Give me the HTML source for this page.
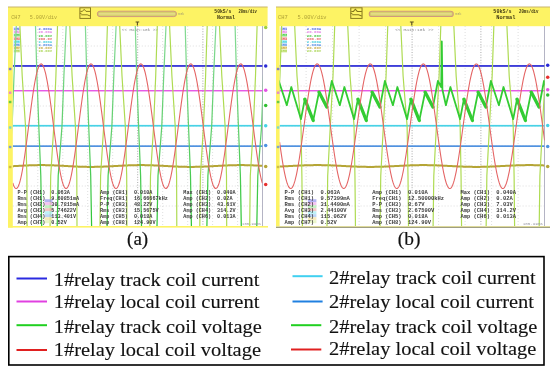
<!DOCTYPE html>
<html><head><meta charset="utf-8"><style>
html,body{margin:0;padding:0;background:#fff;}
body{width:550px;height:372px;overflow:hidden;position:relative;}
svg{position:absolute;left:0;top:0;}
</style></head><body>
<svg width="550" height="372" viewBox="0 0 550 372">
<defs><linearGradient id="gg" gradientUnits="userSpaceOnUse" x1="0" y1="26" x2="0" y2="226"><stop offset="0" stop-color="#86da96"/><stop offset="0.55" stop-color="#5fcf6a"/><stop offset="1" stop-color="#2fc636"/></linearGradient></defs>
<rect x="8" y="7" width="259.6" height="19.2" fill="#fdf364"/>
<rect x="8" y="6.5" width="259.6" height="1" fill="#c9b56c"/>
<rect x="8" y="26" width="4.800000000000001" height="201.6" fill="#fdf364"/>
<rect x="8" y="226" width="260" height="1.6" fill="#fdf364"/>
<path d="M37.8,26 V226 M62.8,26 V226 M87.7,26 V226 M112.7,26 V226 M162.7,26 V226 M187.7,26 V226 M212.6,26 V226 M237.6,26 V226 M12.8,46 H262.6 M12.8,66 H262.6 M12.8,86 H262.6 M12.8,106 H262.6 M12.8,126 H262.6 M12.8,146 H262.6 M12.8,166 H262.6 M12.8,186 H262.6 M12.8,206 H262.6" stroke="#d6d6d6" stroke-width="0.8" stroke-dasharray="1 2" fill="none"/>
<path d="M137.7,26 V226 M202.9,26 V226" stroke="#a0a0a0" stroke-width="0.9" stroke-dasharray="1 1.6" fill="none"/>
<rect x="262.0" y="26" width="1" height="200" fill="#b4b4c4"/>
<g transform="translate(8,0) scale(1.0,1)">
<text x="3.3" y="18.9" font-family='"Liberation Mono",monospace' font-size="5.8" fill="#aea036" textLength="9.2" lengthAdjust="spacingAndGlyphs">CH7</text>
<text x="21.8" y="18.9" font-family='"Liberation Mono",monospace' font-size="5.8" fill="#aea036" textLength="27.3" lengthAdjust="spacingAndGlyphs">5.00V/div</text>
<g fill="none" stroke="#85761c" stroke-width="0.95"><rect x="71.9" y="7.8" width="10.6" height="10.6"/><path d="M72.4,11.4 H74.4 L76.2,9.3 L78,11.4 H82.4"/><path d="M71.9,13.4 H73.4"/><path d="M73.2,14.8 H79.2 L82.2,16"/></g>
<rect x="89.3" y="11.2" width="79.2" height="5.4" rx="2.7" fill="#d6cf6e" stroke="#cf9a7c" stroke-width="1"/>
<rect x="91" y="13.2" width="76" height="1.4" fill="#e6e08a"/>
<text x="169.8" y="15.2" font-family='"Liberation Mono",monospace' font-size="3.6" fill="#a8a070">33k</text>
<text x="206.3" y="12.6" font-family='"Liberation Mono",monospace' font-size="5.4" font-weight="bold" fill="#3e3712" textLength="17" lengthAdjust="spacingAndGlyphs">50kS/s</text>
<text x="230.4" y="12.6" font-family='"Liberation Mono",monospace' font-size="5.4" font-weight="bold" fill="#3e3712" textLength="18.4" lengthAdjust="spacingAndGlyphs">20ms/div</text>
<text x="209.1" y="18.8" font-family='"Liberation Mono",monospace' font-size="5.4" font-weight="bold" fill="#3e3712" textLength="17.9" lengthAdjust="spacingAndGlyphs">Normal</text>
<path d="M127.6,22 H131.2 M129.4,22 V25.6" stroke="#5a5020" stroke-width="1.1" fill="none"/>
<rect x="5.6" y="27.40" width="6.2" height="3.1" fill="#c8c8ff"/>
<text transform="translate(5.9,30.10) scale(0.33)" font-family='"Liberation Mono",monospace' font-size="10" fill="#4060e0">CH1</text>
<text transform="translate(30.4,30.20) scale(0.38)" font-family='"Liberation Mono",monospace' font-size="10" font-weight="bold" fill="#4060e0" opacity="0.85">2.000A</text>
<rect x="5.6" y="30.55" width="6.2" height="3.1" fill="#f8c8f8"/>
<text transform="translate(5.9,33.25) scale(0.33)" font-family='"Liberation Mono",monospace' font-size="10" fill="#e070e0">CH2</text>
<text transform="translate(30.4,33.35) scale(0.38)" font-family='"Liberation Mono",monospace' font-size="10" font-weight="bold" fill="#e070e0" opacity="0.85">20.00A</text>
<rect x="5.6" y="33.70" width="6.2" height="3.1" fill="#b0f0b0"/>
<text transform="translate(5.9,36.40) scale(0.33)" font-family='"Liberation Mono",monospace' font-size="10" fill="#30c030">CH3</text>
<text transform="translate(30.4,36.50) scale(0.38)" font-family='"Liberation Mono",monospace' font-size="10" font-weight="bold" fill="#30c030" opacity="0.85">20.00V</text>
<rect x="5.6" y="36.85" width="6.2" height="3.1" fill="#f8c0c0"/>
<text transform="translate(5.9,39.55) scale(0.33)" font-family='"Liberation Mono",monospace' font-size="10" fill="#e05050">CH4</text>
<text transform="translate(30.4,39.65) scale(0.38)" font-family='"Liberation Mono",monospace' font-size="10" font-weight="bold" fill="#e05050" opacity="0.85">200.0V</text>
<rect x="5.6" y="40.00" width="6.2" height="3.1" fill="#b0f0f8"/>
<text transform="translate(5.9,42.70) scale(0.33)" font-family='"Liberation Mono",monospace' font-size="10" fill="#30c8d8">CH5</text>
<text transform="translate(30.4,42.80) scale(0.38)" font-family='"Liberation Mono",monospace' font-size="10" font-weight="bold" fill="#30c8d8" opacity="0.85">2.000A</text>
<rect x="5.6" y="43.15" width="6.2" height="3.1" fill="#c0d8f8"/>
<text transform="translate(5.9,45.85) scale(0.33)" font-family='"Liberation Mono",monospace' font-size="10" fill="#4080e0">CH6</text>
<text transform="translate(30.4,45.95) scale(0.38)" font-family='"Liberation Mono",monospace' font-size="10" font-weight="bold" fill="#4080e0" opacity="0.85">2.000A</text>
<rect x="5.6" y="46.30" width="6.2" height="3.1" fill="#f0e0a0"/>
<text transform="translate(5.9,49.00) scale(0.33)" font-family='"Liberation Mono",monospace' font-size="10" fill="#c0a030">CH7</text>
<text transform="translate(30.4,49.10) scale(0.38)" font-family='"Liberation Mono",monospace' font-size="10" font-weight="bold" fill="#c0a030" opacity="0.85">20.00V</text>
<rect x="5.6" y="49.45" width="6.2" height="3.1" fill="#e0f0b0"/>
<text transform="translate(5.9,52.15) scale(0.33)" font-family='"Liberation Mono",monospace' font-size="10" fill="#a0d040">CH8</text>
<text transform="translate(30.4,52.25) scale(0.38)" font-family='"Liberation Mono",monospace' font-size="10" font-weight="bold" fill="#a0d040" opacity="0.85">20.00V</text>
<text x="113.8" y="31.3" font-family='"Liberation Mono",monospace' font-size="4.3" fill="#8a8a8a">&lt;&lt; Main:10k &gt;&gt;</text>
</g>
<clipPath id="ca"><rect x="12.8" y="26" width="249.8" height="200"/></clipPath>
<g clip-path="url(#ca)">
<rect x="12.8" y="65.05" width="249.8" height="1.8" fill="#3535d8"/>
<rect x="12.8" y="90.0" width="249.8" height="1.45" fill="#e65ae6"/>
<rect x="12.8" y="124.9" width="249.8" height="1.7" fill="#48d2e6"/>
<rect x="12.8" y="145.3" width="249.8" height="1.7" fill="#5092e0"/>
<path d="M12.80,166.19 L13.30,166.16 L13.80,166.13 L14.30,166.10 L14.80,166.08 L15.30,166.05 L15.80,166.02 L16.30,165.99 L16.80,165.96 L17.30,165.93 L17.80,165.91 L18.30,165.88 L18.80,165.85 L19.30,165.82 L19.80,165.79 L20.30,165.77 L20.80,165.74 L21.30,165.71 L21.80,165.69 L22.30,165.66 L22.80,165.63 L23.30,165.61 L23.80,165.58 L24.30,165.56 L24.80,165.53 L25.30,165.51 L25.80,165.49 L26.30,165.46 L26.80,165.44 L27.30,165.42 L27.80,165.40 L28.30,165.38 L28.80,165.36 L29.30,165.34 L29.80,165.32 L30.30,165.30 L30.80,165.28 L31.30,165.27 L31.80,165.25 L32.30,165.23 L32.80,165.22 L33.30,165.21 L33.80,165.19 L34.30,165.18 L34.80,165.17 L35.30,165.16 L35.80,165.15 L36.30,165.14 L36.80,165.13 L37.30,165.13 L37.80,165.12 L38.30,165.11 L38.80,165.11 L39.30,165.11 L39.80,165.10 L40.30,165.10 L40.80,165.10 L41.30,165.10 L41.80,165.10 L42.30,165.10 L42.80,165.11 L43.30,165.11 L43.80,165.11 L44.30,165.12 L44.80,165.12 L45.30,165.13 L45.80,165.14 L46.30,165.15 L46.80,165.16 L47.30,165.17 L47.80,165.18 L48.30,165.19 L48.80,165.20 L49.30,165.22 L49.80,165.23 L50.30,165.25 L50.80,165.26 L51.30,165.28 L51.80,165.30 L52.30,165.31 L52.80,165.33 L53.30,165.35 L53.80,165.37 L54.30,165.39 L54.80,165.41 L55.30,165.44 L55.80,165.46 L56.30,165.48 L56.80,165.51 L57.30,165.53 L57.80,165.55 L58.30,165.58 L58.80,165.60 L59.30,165.63 L59.80,165.65 L60.30,165.68 L60.80,165.71 L61.30,165.73 L61.80,165.76 L62.30,165.79 L62.80,165.82 L63.30,165.84 L63.80,165.87 L64.30,165.90 L64.80,165.93 L65.30,165.96 L65.80,165.99 L66.30,166.01 L66.80,166.04 L67.30,166.07 L67.80,166.10 L68.30,166.13 L68.80,166.16 L69.30,166.18 L69.80,166.21 L70.30,166.24 L70.80,166.27 L71.30,166.29 L71.80,166.32 L72.30,166.35 L72.80,166.37 L73.30,166.40 L73.80,166.42 L74.30,166.45 L74.80,166.47 L75.30,166.49 L75.80,166.52 L76.30,166.54 L76.80,166.56 L77.30,166.59 L77.80,166.61 L78.30,166.63 L78.80,166.65 L79.30,166.67 L79.80,166.69 L80.30,166.70 L80.80,166.72 L81.30,166.74 L81.80,166.75 L82.30,166.77 L82.80,166.78 L83.30,166.80 L83.80,166.81 L84.30,166.82 L84.80,166.83 L85.30,166.84 L85.80,166.85 L86.30,166.86 L86.80,166.87 L87.30,166.88 L87.80,166.88 L88.30,166.89 L88.80,166.89 L89.30,166.89 L89.80,166.90 L90.30,166.90 L90.80,166.90 L91.30,166.90 L91.80,166.90 L92.30,166.90 L92.80,166.89 L93.30,166.89 L93.80,166.89 L94.30,166.88 L94.80,166.87 L95.30,166.87 L95.80,166.86 L96.30,166.85 L96.80,166.84 L97.30,166.83 L97.80,166.82 L98.30,166.81 L98.80,166.79 L99.30,166.78 L99.80,166.77 L100.30,166.75 L100.80,166.73 L101.30,166.72 L101.80,166.70 L102.30,166.68 L102.80,166.66 L103.30,166.64 L103.80,166.62 L104.30,166.60 L104.80,166.58 L105.30,166.56 L105.80,166.54 L106.30,166.51 L106.80,166.49 L107.30,166.47 L107.80,166.44 L108.30,166.42 L108.80,166.39 L109.30,166.37 L109.80,166.34 L110.30,166.31 L110.80,166.29 L111.30,166.26 L111.80,166.23 L112.30,166.21 L112.80,166.18 L113.30,166.15 L113.80,166.12 L114.30,166.09 L114.80,166.07 L115.30,166.04 L115.80,166.01 L116.30,165.98 L116.80,165.95 L117.30,165.92 L117.80,165.90 L118.30,165.87 L118.80,165.84 L119.30,165.81 L119.80,165.78 L120.30,165.76 L120.80,165.73 L121.30,165.70 L121.80,165.68 L122.30,165.65 L122.80,165.62 L123.30,165.60 L123.80,165.57 L124.30,165.55 L124.80,165.52 L125.30,165.50 L125.80,165.48 L126.30,165.45 L126.80,165.43 L127.30,165.41 L127.80,165.39 L128.30,165.37 L128.80,165.35 L129.30,165.33 L129.80,165.31 L130.30,165.29 L130.80,165.28 L131.30,165.26 L131.80,165.24 L132.30,165.23 L132.80,165.21 L133.30,165.20 L133.80,165.19 L134.30,165.18 L134.80,165.17 L135.30,165.16 L135.80,165.15 L136.30,165.14 L136.80,165.13 L137.30,165.12 L137.80,165.12 L138.30,165.11 L138.80,165.11 L139.30,165.10 L139.80,165.10 L140.30,165.10 L140.80,165.10 L141.30,165.10 L141.80,165.10 L142.30,165.10 L142.80,165.11 L143.30,165.11 L143.80,165.11 L144.30,165.12 L144.80,165.13 L145.30,165.13 L145.80,165.14 L146.30,165.15 L146.80,165.16 L147.30,165.17 L147.80,165.18 L148.30,165.20 L148.80,165.21 L149.30,165.22 L149.80,165.24 L150.30,165.25 L150.80,165.27 L151.30,165.29 L151.80,165.30 L152.30,165.32 L152.80,165.34 L153.30,165.36 L153.80,165.38 L154.30,165.40 L154.80,165.42 L155.30,165.45 L155.80,165.47 L156.30,165.49 L156.80,165.51 L157.30,165.54 L157.80,165.56 L158.30,165.59 L158.80,165.61 L159.30,165.64 L159.80,165.67 L160.30,165.69 L160.80,165.72 L161.30,165.75 L161.80,165.77 L162.30,165.80 L162.80,165.83 L163.30,165.86 L163.80,165.88 L164.30,165.91 L164.80,165.94 L165.30,165.97 L165.80,166.00 L166.30,166.03 L166.80,166.05 L167.30,166.08 L167.80,166.11 L168.30,166.14 L168.80,166.17 L169.30,166.19 L169.80,166.22 L170.30,166.25 L170.80,166.28 L171.30,166.30 L171.80,166.33 L172.30,166.36 L172.80,166.38 L173.30,166.41 L173.80,166.43 L174.30,166.46 L174.80,166.48 L175.30,166.50 L175.80,166.53 L176.30,166.55 L176.80,166.57 L177.30,166.59 L177.80,166.62 L178.30,166.64 L178.80,166.66 L179.30,166.67 L179.80,166.69 L180.30,166.71 L180.80,166.73 L181.30,166.74 L181.80,166.76 L182.30,166.77 L182.80,166.79 L183.30,166.80 L183.80,166.81 L184.30,166.83 L184.80,166.84 L185.30,166.85 L185.80,166.86 L186.30,166.86 L186.80,166.87 L187.30,166.88 L187.80,166.88 L188.30,166.89 L188.80,166.89 L189.30,166.90 L189.80,166.90 L190.30,166.90 L190.80,166.90 L191.30,166.90 L191.80,166.90 L192.30,166.90 L192.80,166.89 L193.30,166.89 L193.80,166.88 L194.30,166.88 L194.80,166.87 L195.30,166.86 L195.80,166.86 L196.30,166.85 L196.80,166.84 L197.30,166.83 L197.80,166.81 L198.30,166.80 L198.80,166.79 L199.30,166.77 L199.80,166.76 L200.30,166.74 L200.80,166.73 L201.30,166.71 L201.80,166.69 L202.30,166.67 L202.80,166.66 L203.30,166.64 L203.80,166.62 L204.30,166.59 L204.80,166.57 L205.30,166.55 L205.80,166.53 L206.30,166.50 L206.80,166.48 L207.30,166.46 L207.80,166.43 L208.30,166.41 L208.80,166.38 L209.30,166.36 L209.80,166.33 L210.30,166.30 L210.80,166.28 L211.30,166.25 L211.80,166.22 L212.30,166.19 L212.80,166.17 L213.30,166.14 L213.80,166.11 L214.30,166.08 L214.80,166.05 L215.30,166.03 L215.80,166.00 L216.30,165.97 L216.80,165.94 L217.30,165.91 L217.80,165.88 L218.30,165.86 L218.80,165.83 L219.30,165.80 L219.80,165.77 L220.30,165.75 L220.80,165.72 L221.30,165.69 L221.80,165.67 L222.30,165.64 L222.80,165.61 L223.30,165.59 L223.80,165.56 L224.30,165.54 L224.80,165.51 L225.30,165.49 L225.80,165.47 L226.30,165.45 L226.80,165.42 L227.30,165.40 L227.80,165.38 L228.30,165.36 L228.80,165.34 L229.30,165.32 L229.80,165.30 L230.30,165.29 L230.80,165.27 L231.30,165.25 L231.80,165.24 L232.30,165.22 L232.80,165.21 L233.30,165.20 L233.80,165.18 L234.30,165.17 L234.80,165.16 L235.30,165.15 L235.80,165.14 L236.30,165.13 L236.80,165.13 L237.30,165.12 L237.80,165.11 L238.30,165.11 L238.80,165.11 L239.30,165.10 L239.80,165.10 L240.30,165.10 L240.80,165.10 L241.30,165.10 L241.80,165.10 L242.30,165.10 L242.80,165.11 L243.30,165.11 L243.80,165.12 L244.30,165.12 L244.80,165.13 L245.30,165.14 L245.80,165.15 L246.30,165.16 L246.80,165.17 L247.30,165.18 L247.80,165.19 L248.30,165.20 L248.80,165.21 L249.30,165.23 L249.80,165.24 L250.30,165.26 L250.80,165.28 L251.30,165.29 L251.80,165.31 L252.30,165.33 L252.80,165.35 L253.30,165.37 L253.80,165.39 L254.30,165.41 L254.80,165.43 L255.30,165.45 L255.80,165.48 L256.30,165.50 L256.80,165.52 L257.30,165.55 L257.80,165.57 L258.30,165.60 L258.80,165.62 L259.30,165.65 L259.80,165.68 L260.30,165.70 L260.80,165.73 L261.30,165.76 L261.80,165.78 L262.30,165.81" stroke="#b5a536" stroke-width="2" fill="none"/>
<path d="M19.90,26 L22.20,76 L25.50,126 L26.90,176 L27.10,226" stroke="#aedb52" stroke-width="1.2" fill="none"/>
<path d="M69.80,26 L72.10,76 L75.40,126 L76.80,176 L77.00,226" stroke="#aedb52" stroke-width="1.2" fill="none"/>
<path d="M119.70,26 L122.00,76 L125.30,126 L126.70,176 L126.90,226" stroke="#aedb52" stroke-width="1.2" fill="none"/>
<path d="M169.60,26 L171.90,76 L175.20,126 L176.60,176 L176.80,226" stroke="#aedb52" stroke-width="1.2" fill="none"/>
<path d="M219.50,26 L221.80,76 L225.10,126 L226.50,176 L226.70,226" stroke="#aedb52" stroke-width="1.2" fill="none"/>
<path d="M57.50,26 L55.90,76 L53.80,126 L50.70,176 L50.10,226" stroke="#aedb52" stroke-width="1.2" fill="none"/>
<path d="M107.40,26 L105.80,76 L103.70,126 L100.60,176 L100.00,226" stroke="#aedb52" stroke-width="1.2" fill="none"/>
<path d="M157.30,26 L155.70,76 L153.60,126 L150.50,176 L149.90,226" stroke="#aedb52" stroke-width="1.2" fill="none"/>
<path d="M207.20,26 L205.60,76 L203.50,126 L200.40,176 L199.80,226" stroke="#aedb52" stroke-width="1.2" fill="none"/>
<path d="M257.10,26 L255.50,76 L253.40,126 L250.30,176 L249.70,226" stroke="#aedb52" stroke-width="1.2" fill="none"/>
<path d="M35.50,26 L36.90,76 L38.80,126 L40.80,176 L41.70,226" stroke="url(#gg)" stroke-width="1.25" fill="none"/>
<path d="M85.40,26 L86.80,76 L88.70,126 L90.70,176 L91.60,226" stroke="url(#gg)" stroke-width="1.25" fill="none"/>
<path d="M135.30,26 L136.70,76 L138.60,126 L140.60,176 L141.50,226" stroke="url(#gg)" stroke-width="1.25" fill="none"/>
<path d="M185.20,26 L186.60,76 L188.50,126 L190.50,176 L191.40,226" stroke="url(#gg)" stroke-width="1.25" fill="none"/>
<path d="M235.10,26 L236.50,76 L238.40,126 L240.40,176 L241.30,226" stroke="url(#gg)" stroke-width="1.25" fill="none"/>
<path d="M16.30,26 L14.00,76 L12.10,126 L8.30,176 L7.30,226" stroke="url(#gg)" stroke-width="1.25" fill="none"/>
<path d="M66.20,26 L63.90,76 L62.00,126 L58.20,176 L57.20,226" stroke="url(#gg)" stroke-width="1.25" fill="none"/>
<path d="M116.10,26 L113.80,76 L111.90,126 L108.10,176 L107.10,226" stroke="url(#gg)" stroke-width="1.25" fill="none"/>
<path d="M166.00,26 L163.70,76 L161.80,126 L158.00,176 L157.00,226" stroke="url(#gg)" stroke-width="1.25" fill="none"/>
<path d="M215.90,26 L213.60,76 L211.70,126 L207.90,176 L206.90,226" stroke="url(#gg)" stroke-width="1.25" fill="none"/>
<path d="M265.80,26 L263.50,76 L261.60,126 L257.80,176 L256.80,226" stroke="url(#gg)" stroke-width="1.25" fill="none"/>
<path d="M12.80,183.04 L13.30,184.53 L13.80,185.79 L14.30,186.82 L14.80,187.60 L15.30,188.14 L15.80,188.44 L16.30,188.49 L16.80,188.29 L17.30,187.85 L17.80,187.16 L18.30,186.23 L18.80,185.06 L19.30,183.66 L19.80,182.04 L20.30,180.19 L20.80,178.12 L21.30,175.85 L21.80,173.39 L22.30,170.74 L22.80,167.91 L23.30,164.91 L23.80,161.76 L24.30,158.48 L24.80,155.06 L25.30,151.53 L25.80,147.90 L26.30,144.18 L26.80,140.39 L27.30,136.55 L27.80,132.66 L28.30,128.75 L28.80,124.83 L29.30,120.91 L29.80,117.02 L30.30,113.16 L30.80,109.35 L31.30,105.61 L31.80,101.95 L32.30,98.39 L32.80,94.94 L33.30,91.61 L33.80,88.42 L34.30,85.38 L34.80,82.50 L35.30,79.79 L35.80,77.27 L36.30,74.94 L36.80,72.81 L37.30,70.90 L37.80,69.20 L38.30,67.73 L38.80,66.49 L39.30,65.49 L39.80,64.73 L40.30,64.22 L40.80,63.94 L41.30,63.92 L41.80,64.14 L42.30,64.61 L42.80,65.32 L43.30,66.28 L43.80,67.47 L44.30,68.89 L44.80,70.54 L45.30,72.41 L45.80,74.49 L46.30,76.78 L46.80,79.27 L47.30,81.94 L47.80,84.79 L48.30,87.80 L48.80,90.96 L49.30,94.26 L49.80,97.69 L50.30,101.23 L50.80,104.87 L51.30,108.60 L51.80,112.39 L52.30,116.24 L52.80,120.13 L53.30,124.04 L53.80,127.96 L54.30,131.88 L54.80,135.77 L55.30,139.63 L55.80,143.43 L56.30,147.16 L56.80,150.81 L57.30,154.36 L57.80,157.80 L58.30,161.12 L58.80,164.29 L59.30,167.32 L59.80,170.18 L60.30,172.87 L60.80,175.38 L61.30,177.69 L61.80,179.79 L62.30,181.68 L62.80,183.36 L63.30,184.80 L63.80,186.02 L64.30,186.99 L64.80,187.73 L65.30,188.22 L65.80,188.47 L66.30,188.47 L66.80,188.22 L67.30,187.73 L67.80,186.99 L68.30,186.02 L68.80,184.80 L69.30,183.36 L69.80,181.68 L70.30,179.79 L70.80,177.69 L71.30,175.38 L71.80,172.87 L72.30,170.18 L72.80,167.32 L73.30,164.29 L73.80,161.12 L74.30,157.80 L74.80,154.36 L75.30,150.81 L75.80,147.16 L76.30,143.43 L76.80,139.63 L77.30,135.77 L77.80,131.88 L78.30,127.96 L78.80,124.04 L79.30,120.13 L79.80,116.24 L80.30,112.39 L80.80,108.60 L81.30,104.87 L81.80,101.23 L82.30,97.69 L82.80,94.26 L83.30,90.96 L83.80,87.80 L84.30,84.79 L84.80,81.94 L85.30,79.27 L85.80,76.78 L86.30,74.49 L86.80,72.41 L87.30,70.54 L87.80,68.89 L88.30,67.47 L88.80,66.28 L89.30,65.32 L89.80,64.61 L90.30,64.14 L90.80,63.92 L91.30,63.94 L91.80,64.22 L92.30,64.73 L92.80,65.49 L93.30,66.49 L93.80,67.73 L94.30,69.20 L94.80,70.90 L95.30,72.81 L95.80,74.94 L96.30,77.27 L96.80,79.79 L97.30,82.50 L97.80,85.38 L98.30,88.42 L98.80,91.61 L99.30,94.94 L99.80,98.39 L100.30,101.95 L100.80,105.61 L101.30,109.35 L101.80,113.16 L102.30,117.02 L102.80,120.91 L103.30,124.83 L103.80,128.75 L104.30,132.66 L104.80,136.55 L105.30,140.39 L105.80,144.18 L106.30,147.90 L106.80,151.53 L107.30,155.06 L107.80,158.48 L108.30,161.76 L108.80,164.91 L109.30,167.91 L109.80,170.74 L110.30,173.39 L110.80,175.85 L111.30,178.12 L111.80,180.19 L112.30,182.04 L112.80,183.66 L113.30,185.06 L113.80,186.23 L114.30,187.16 L114.80,187.85 L115.30,188.29 L115.80,188.49 L116.30,188.44 L116.80,188.14 L117.30,187.60 L117.80,186.82 L118.30,185.79 L118.80,184.53 L119.30,183.04 L119.80,181.32 L120.30,179.39 L120.80,177.24 L121.30,174.89 L121.80,172.35 L122.30,169.62 L122.80,166.73 L123.30,163.67 L123.80,160.46 L124.30,157.12 L124.80,153.66 L125.30,150.09 L125.80,146.42 L126.30,142.67 L126.80,138.86 L127.30,135.00 L127.80,131.10 L128.30,127.18 L128.80,123.26 L129.30,119.35 L129.80,115.47 L130.30,111.63 L130.80,107.85 L131.30,104.14 L131.80,100.51 L132.30,96.99 L132.80,93.59 L133.30,90.31 L133.80,87.18 L134.30,84.20 L134.80,81.39 L135.30,78.76 L135.80,76.31 L136.30,74.06 L136.80,72.02 L137.30,70.19 L137.80,68.59 L138.30,67.21 L138.80,66.07 L139.30,65.16 L139.80,64.50 L140.30,64.08 L140.80,63.90 L141.30,63.98 L141.80,64.30 L142.30,64.87 L142.80,65.67 L143.30,66.72 L143.80,68.01 L144.30,69.52 L144.80,71.26 L145.30,73.22 L145.80,75.39 L146.30,77.76 L146.80,80.32 L147.30,83.06 L147.80,85.97 L148.30,89.04 L148.80,92.26 L149.30,95.62 L149.80,99.09 L150.30,102.68 L150.80,106.35 L151.30,110.11 L151.80,113.93 L152.30,117.79 L152.80,121.69 L153.30,125.61 L153.80,129.53 L154.30,133.44 L154.80,137.32 L155.30,141.15 L155.80,144.93 L156.30,148.63 L156.80,152.24 L157.30,155.75 L157.80,159.14 L158.30,162.41 L158.80,165.52 L159.30,168.49 L159.80,171.28 L160.30,173.90 L160.80,176.32 L161.30,178.55 L161.80,180.57 L162.30,182.38 L162.80,183.96 L163.30,185.32 L163.80,186.44 L164.30,187.32 L164.80,187.96 L165.30,188.35 L165.80,188.50 L166.30,188.40 L166.80,188.05 L167.30,187.46 L167.80,186.63 L168.30,185.56 L168.80,184.25 L169.30,182.71 L169.80,180.95 L170.30,178.97 L170.80,176.79 L171.30,174.40 L171.80,171.82 L172.30,169.06 L172.80,166.13 L173.30,163.04 L173.80,159.81 L174.30,156.44 L174.80,152.95 L175.30,149.36 L175.80,145.68 L176.30,141.91 L176.80,138.09 L177.30,134.22 L177.80,130.32 L178.30,126.40 L178.80,122.48 L179.30,118.57 L179.80,114.70 L180.30,110.87 L180.80,107.10 L181.30,103.40 L181.80,99.80 L182.30,96.30 L182.80,92.92 L183.30,89.68 L183.80,86.57 L184.30,83.63 L184.80,80.85 L185.30,78.25 L185.80,75.84 L186.30,73.64 L186.80,71.64 L187.30,69.85 L187.80,68.29 L188.30,66.96 L188.80,65.87 L189.30,65.01 L189.80,64.39 L190.30,64.02 L190.80,63.90 L191.30,64.02 L191.80,64.39 L192.30,65.01 L192.80,65.87 L193.30,66.96 L193.80,68.29 L194.30,69.85 L194.80,71.64 L195.30,73.64 L195.80,75.84 L196.30,78.25 L196.80,80.85 L197.30,83.63 L197.80,86.57 L198.30,89.68 L198.80,92.92 L199.30,96.30 L199.80,99.80 L200.30,103.40 L200.80,107.10 L201.30,110.87 L201.80,114.70 L202.30,118.57 L202.80,122.48 L203.30,126.40 L203.80,130.32 L204.30,134.22 L204.80,138.09 L205.30,141.91 L205.80,145.68 L206.30,149.36 L206.80,152.95 L207.30,156.44 L207.80,159.81 L208.30,163.04 L208.80,166.13 L209.30,169.06 L209.80,171.82 L210.30,174.40 L210.80,176.79 L211.30,178.97 L211.80,180.95 L212.30,182.71 L212.80,184.25 L213.30,185.56 L213.80,186.63 L214.30,187.46 L214.80,188.05 L215.30,188.40 L215.80,188.50 L216.30,188.35 L216.80,187.96 L217.30,187.32 L217.80,186.44 L218.30,185.32 L218.80,183.96 L219.30,182.38 L219.80,180.57 L220.30,178.55 L220.80,176.32 L221.30,173.90 L221.80,171.28 L222.30,168.49 L222.80,165.52 L223.30,162.41 L223.80,159.14 L224.30,155.75 L224.80,152.24 L225.30,148.63 L225.80,144.93 L226.30,141.15 L226.80,137.32 L227.30,133.44 L227.80,129.53 L228.30,125.61 L228.80,121.69 L229.30,117.79 L229.80,113.93 L230.30,110.11 L230.80,106.35 L231.30,102.68 L231.80,99.09 L232.30,95.62 L232.80,92.26 L233.30,89.04 L233.80,85.97 L234.30,83.06 L234.80,80.32 L235.30,77.76 L235.80,75.39 L236.30,73.22 L236.80,71.26 L237.30,69.52 L237.80,68.01 L238.30,66.72 L238.80,65.67 L239.30,64.87 L239.80,64.30 L240.30,63.98 L240.80,63.90 L241.30,64.08 L241.80,64.50 L242.30,65.16 L242.80,66.07 L243.30,67.21 L243.80,68.59 L244.30,70.19 L244.80,72.02 L245.30,74.06 L245.80,76.31 L246.30,78.76 L246.80,81.39 L247.30,84.20 L247.80,87.18 L248.30,90.31 L248.80,93.59 L249.30,96.99 L249.80,100.51 L250.30,104.14 L250.80,107.85 L251.30,111.63 L251.80,115.47 L252.30,119.35 L252.80,123.26 L253.30,127.18 L253.80,131.10 L254.30,135.00 L254.80,138.86 L255.30,142.67 L255.80,146.42 L256.30,150.09 L256.80,153.66 L257.30,157.12 L257.80,160.46 L258.30,163.67 L258.80,166.73 L259.30,169.62 L259.80,172.35 L260.30,174.89 L260.80,177.24 L261.30,179.39 L261.80,181.32 L262.30,183.04" stroke="#e46464" stroke-width="1.1" fill="none"/>
</g>
<g transform="translate(8,0) scale(1.0,1)">
<rect x="36.5" y="199.2" width="8" height="3" fill="#9c9cf0" opacity="0.75"/>
<rect x="36.5" y="202.2" width="8" height="3" fill="#f0b0ec" opacity="0.75"/>
<rect x="36.5" y="205.2" width="8" height="3" fill="#b0ecb0" opacity="0.75"/>
<rect x="36.5" y="208.2" width="8" height="3" fill="#f0b4b4" opacity="0.75"/>
<rect x="36.5" y="211.2" width="8" height="3" fill="#a8ecf4" opacity="0.75"/>
<rect x="36.5" y="214.2" width="8" height="3" fill="#a8c8f4" opacity="0.75"/>
<rect x="36.5" y="217.2" width="8" height="3" fill="#f4e4a8" opacity="0.75"/>
<rect x="36.5" y="220.2" width="8" height="3" fill="#e4f4b8" opacity="0.75"/>
<text x="9.5" y="193.70" font-family='"Liberation Mono",monospace' font-size="5.15" font-weight="bold" fill="#3c3c3c" xml:space="preserve">P-P (CH1)</text>
<text x="43.3" y="193.70" font-family='"Liberation Mono",monospace' font-size="5.15" font-weight="bold" fill="#3c3c3c">0.063A</text>
<text x="92.1" y="193.70" font-family='"Liberation Mono",monospace' font-size="5.15" font-weight="bold" fill="#3c3c3c" xml:space="preserve">Amp (CH1)</text>
<text x="125.9" y="193.70" font-family='"Liberation Mono",monospace' font-size="5.15" font-weight="bold" fill="#3c3c3c">0.010A</text>
<text x="175.3" y="193.70" font-family='"Liberation Mono",monospace' font-size="5.15" font-weight="bold" fill="#3c3c3c" xml:space="preserve">Max (CH1)</text>
<text x="209.1" y="193.70" font-family='"Liberation Mono",monospace' font-size="5.15" font-weight="bold" fill="#3c3c3c">0.040A</text>
<text x="9.5" y="199.85" font-family='"Liberation Mono",monospace' font-size="5.15" font-weight="bold" fill="#3c3c3c" xml:space="preserve">Rms (CH1)</text>
<text x="43.3" y="199.85" font-family='"Liberation Mono",monospace' font-size="5.15" font-weight="bold" fill="#3c3c3c">9.60851mA</text>
<text x="92.1" y="199.85" font-family='"Liberation Mono",monospace' font-size="5.15" font-weight="bold" fill="#3c3c3c" xml:space="preserve">Freq(CH1)</text>
<text x="125.9" y="199.85" font-family='"Liberation Mono",monospace' font-size="5.15" font-weight="bold" fill="#3c3c3c">16.66667kHz</text>
<text x="175.3" y="199.85" font-family='"Liberation Mono",monospace' font-size="5.15" font-weight="bold" fill="#3c3c3c" xml:space="preserve">Amp (CH2)</text>
<text x="209.1" y="199.85" font-family='"Liberation Mono",monospace' font-size="5.15" font-weight="bold" fill="#3c3c3c">0.02A</text>
<text x="9.5" y="206.00" font-family='"Liberation Mono",monospace' font-size="5.15" font-weight="bold" fill="#3c3c3c" xml:space="preserve">Rms (CH2)</text>
<text x="43.3" y="206.00" font-family='"Liberation Mono",monospace' font-size="5.15" font-weight="bold" fill="#3c3c3c">30.7815mA</text>
<text x="92.1" y="206.00" font-family='"Liberation Mono",monospace' font-size="5.15" font-weight="bold" fill="#3c3c3c" xml:space="preserve">P-P (CH3)</text>
<text x="125.9" y="206.00" font-family='"Liberation Mono",monospace' font-size="5.15" font-weight="bold" fill="#3c3c3c">48.22V</text>
<text x="175.3" y="206.00" font-family='"Liberation Mono",monospace' font-size="5.15" font-weight="bold" fill="#3c3c3c" xml:space="preserve">Amp (CH3)</text>
<text x="209.1" y="206.00" font-family='"Liberation Mono",monospace' font-size="5.15" font-weight="bold" fill="#3c3c3c">43.61V</text>
<text x="9.5" y="212.15" font-family='"Liberation Mono",monospace' font-size="5.15" font-weight="bold" fill="#3c3c3c" xml:space="preserve">Avg (CH3)</text>
<text x="43.3" y="212.15" font-family='"Liberation Mono",monospace' font-size="5.15" font-weight="bold" fill="#3c3c3c">5.74622V</text>
<text x="92.1" y="212.15" font-family='"Liberation Mono",monospace' font-size="5.15" font-weight="bold" fill="#3c3c3c" xml:space="preserve">Rms (CH3)</text>
<text x="125.9" y="212.15" font-family='"Liberation Mono",monospace' font-size="5.15" font-weight="bold" fill="#3c3c3c">15.5675V</text>
<text x="175.3" y="212.15" font-family='"Liberation Mono",monospace' font-size="5.15" font-weight="bold" fill="#3c3c3c" xml:space="preserve">Amp (CH4)</text>
<text x="209.1" y="212.15" font-family='"Liberation Mono",monospace' font-size="5.15" font-weight="bold" fill="#3c3c3c">314.2V</text>
<text x="9.5" y="218.30" font-family='"Liberation Mono",monospace' font-size="5.15" font-weight="bold" fill="#3c3c3c" xml:space="preserve">Rms (CH4)</text>
<text x="43.3" y="218.30" font-family='"Liberation Mono",monospace' font-size="5.15" font-weight="bold" fill="#3c3c3c">113.401V</text>
<text x="92.1" y="218.30" font-family='"Liberation Mono",monospace' font-size="5.15" font-weight="bold" fill="#3c3c3c" xml:space="preserve">Amp (CH5)</text>
<text x="125.9" y="218.30" font-family='"Liberation Mono",monospace' font-size="5.15" font-weight="bold" fill="#3c3c3c">0.018A</text>
<text x="175.3" y="218.30" font-family='"Liberation Mono",monospace' font-size="5.15" font-weight="bold" fill="#3c3c3c" xml:space="preserve">Amp (CH6)</text>
<text x="209.1" y="218.30" font-family='"Liberation Mono",monospace' font-size="5.15" font-weight="bold" fill="#3c3c3c">0.013A</text>
<text x="9.5" y="224.45" font-family='"Liberation Mono",monospace' font-size="5.15" font-weight="bold" fill="#3c3c3c" xml:space="preserve">Amp (CH7)</text>
<text x="43.3" y="224.45" font-family='"Liberation Mono",monospace' font-size="5.15" font-weight="bold" fill="#3c3c3c">0.52V</text>
<text x="92.1" y="224.45" font-family='"Liberation Mono",monospace' font-size="5.15" font-weight="bold" fill="#3c3c3c" xml:space="preserve">Amp (CH8)</text>
<text x="125.9" y="224.45" font-family='"Liberation Mono",monospace' font-size="5.15" font-weight="bold" fill="#3c3c3c">124.90V</text>
<text x="234" y="225.4" font-family='"Liberation Mono",monospace' font-size="4" fill="#9a9aa6">105.99ms</text>
</g>
<circle cx="265.7" cy="27.5" r="1.75" fill="#a0d040"/>
<circle cx="265.7" cy="66.0" r="1.75" fill="#2b2bd6"/>
<circle cx="265.7" cy="90.2" r="1.75" fill="#e553e5"/>
<circle cx="265.7" cy="105.6" r="1.75" fill="#30c030"/>
<circle cx="265.7" cy="125.7" r="1.75" fill="#45d3e6"/>
<circle cx="265.7" cy="145.6" r="1.75" fill="#4d92e2"/>
<circle cx="265.7" cy="166.5" r="1.75" fill="#b5a536"/>
<circle cx="265.7" cy="184.4" r="1.75" fill="#e83030"/>
<rect x="8.8" y="67.8" width="2.6" height="2.4" fill="#6060e0" opacity="0.8"/>
<rect x="8.8" y="91.5" width="2.6" height="2.4" fill="#e070e0" opacity="0.8"/>
<rect x="8.8" y="100.8" width="2.6" height="2.4" fill="#40c040" opacity="0.8"/>
<rect x="8.8" y="126.3" width="2.6" height="2.4" fill="#60d0e0" opacity="0.8"/>
<rect x="8.8" y="145.8" width="2.6" height="2.4" fill="#6090e0" opacity="0.8"/>
<rect x="8.8" y="165.8" width="2.6" height="2.4" fill="#c0b040" opacity="0.8"/>
<rect x="276" y="7" width="274" height="19.2" fill="#fdf364"/>
<rect x="276" y="6.5" width="274" height="1" fill="#c9b56c"/>
<rect x="276" y="26" width="3.6000000000000227" height="201" fill="#fdf364"/>
<rect x="276" y="226" width="274" height="1.6" fill="#e8e4a0"/>
<path d="M306.1,26 V226 M332.6,26 V226 M359.1,26 V226 M385.6,26 V226 M438.6,26 V226 M465.1,26 V226 M491.6,26 V226 M518.1,26 V226 M279.6,46 H544.6 M279.6,66 H544.6 M279.6,86 H544.6 M279.6,106 H544.6 M279.6,126 H544.6 M279.6,146 H544.6 M279.6,166 H544.6 M279.6,186 H544.6 M279.6,206 H544.6" stroke="#d6d6d6" stroke-width="0.8" stroke-dasharray="1 2" fill="none"/>
<path d="M412.1,26 V226 M480.9,26 V226" stroke="#a0a0a0" stroke-width="0.9" stroke-dasharray="1 1.6" fill="none"/>
<rect x="544.0" y="26" width="1" height="200" fill="#b4b4c4"/>
<g transform="translate(274.5,0) scale(1.061,1)">
<text x="3.3" y="18.9" font-family='"Liberation Mono",monospace' font-size="5.8" fill="#aea036" textLength="9.2" lengthAdjust="spacingAndGlyphs">CH7</text>
<text x="21.8" y="18.9" font-family='"Liberation Mono",monospace' font-size="5.8" fill="#aea036" textLength="27.3" lengthAdjust="spacingAndGlyphs">5.00V/div</text>
<g fill="none" stroke="#85761c" stroke-width="0.95"><rect x="71.9" y="7.8" width="10.6" height="10.6"/><path d="M72.4,11.4 H74.4 L76.2,9.3 L78,11.4 H82.4"/><path d="M71.9,13.4 H73.4"/><path d="M73.2,14.8 H79.2 L82.2,16"/></g>
<rect x="89.3" y="11.2" width="79.2" height="5.4" rx="2.7" fill="#d6cf6e" stroke="#cf9a7c" stroke-width="1"/>
<rect x="91" y="13.2" width="76" height="1.4" fill="#e6e08a"/>
<text x="169.8" y="15.2" font-family='"Liberation Mono",monospace' font-size="3.6" fill="#a8a070">33k</text>
<text x="206.3" y="12.6" font-family='"Liberation Mono",monospace' font-size="5.4" font-weight="bold" fill="#3e3712" textLength="17" lengthAdjust="spacingAndGlyphs">50kS/s</text>
<text x="230.4" y="12.6" font-family='"Liberation Mono",monospace' font-size="5.4" font-weight="bold" fill="#3e3712" textLength="18.4" lengthAdjust="spacingAndGlyphs">20ms/div</text>
<text x="209.1" y="18.8" font-family='"Liberation Mono",monospace' font-size="5.4" font-weight="bold" fill="#3e3712" textLength="17.9" lengthAdjust="spacingAndGlyphs">Normal</text>
<path d="M127.6,22 H131.2 M129.4,22 V25.6" stroke="#5a5020" stroke-width="1.1" fill="none"/>
<rect x="5.6" y="27.40" width="6.2" height="3.1" fill="#c8c8ff"/>
<text transform="translate(5.9,30.10) scale(0.33)" font-family='"Liberation Mono",monospace' font-size="10" fill="#4060e0">CH1</text>
<text transform="translate(30.4,30.20) scale(0.38)" font-family='"Liberation Mono",monospace' font-size="10" font-weight="bold" fill="#4060e0" opacity="0.85">2.000A</text>
<rect x="5.6" y="30.55" width="6.2" height="3.1" fill="#f8c8f8"/>
<text transform="translate(5.9,33.25) scale(0.33)" font-family='"Liberation Mono",monospace' font-size="10" fill="#e070e0">CH2</text>
<text transform="translate(30.4,33.35) scale(0.38)" font-family='"Liberation Mono",monospace' font-size="10" font-weight="bold" fill="#e070e0" opacity="0.85">20.00A</text>
<rect x="5.6" y="33.70" width="6.2" height="3.1" fill="#b0f0b0"/>
<text transform="translate(5.9,36.40) scale(0.33)" font-family='"Liberation Mono",monospace' font-size="10" fill="#30c030">CH3</text>
<text transform="translate(30.4,36.50) scale(0.38)" font-family='"Liberation Mono",monospace' font-size="10" font-weight="bold" fill="#30c030" opacity="0.85">20.00V</text>
<rect x="5.6" y="36.85" width="6.2" height="3.1" fill="#f8c0c0"/>
<text transform="translate(5.9,39.55) scale(0.33)" font-family='"Liberation Mono",monospace' font-size="10" fill="#e05050">CH4</text>
<text transform="translate(30.4,39.65) scale(0.38)" font-family='"Liberation Mono",monospace' font-size="10" font-weight="bold" fill="#e05050" opacity="0.85">200.0V</text>
<rect x="5.6" y="40.00" width="6.2" height="3.1" fill="#b0f0f8"/>
<text transform="translate(5.9,42.70) scale(0.33)" font-family='"Liberation Mono",monospace' font-size="10" fill="#30c8d8">CH5</text>
<text transform="translate(30.4,42.80) scale(0.38)" font-family='"Liberation Mono",monospace' font-size="10" font-weight="bold" fill="#30c8d8" opacity="0.85">2.000A</text>
<rect x="5.6" y="43.15" width="6.2" height="3.1" fill="#c0d8f8"/>
<text transform="translate(5.9,45.85) scale(0.33)" font-family='"Liberation Mono",monospace' font-size="10" fill="#4080e0">CH6</text>
<text transform="translate(30.4,45.95) scale(0.38)" font-family='"Liberation Mono",monospace' font-size="10" font-weight="bold" fill="#4080e0" opacity="0.85">2.000A</text>
<rect x="5.6" y="46.30" width="6.2" height="3.1" fill="#f0e0a0"/>
<text transform="translate(5.9,49.00) scale(0.33)" font-family='"Liberation Mono",monospace' font-size="10" fill="#c0a030">CH7</text>
<text transform="translate(30.4,49.10) scale(0.38)" font-family='"Liberation Mono",monospace' font-size="10" font-weight="bold" fill="#c0a030" opacity="0.85">20.00V</text>
<rect x="5.6" y="49.45" width="6.2" height="3.1" fill="#e0f0b0"/>
<text transform="translate(5.9,52.15) scale(0.33)" font-family='"Liberation Mono",monospace' font-size="10" fill="#a0d040">CH8</text>
<text transform="translate(30.4,52.25) scale(0.38)" font-family='"Liberation Mono",monospace' font-size="10" font-weight="bold" fill="#a0d040" opacity="0.85">20.00V</text>
<text x="113.8" y="31.3" font-family='"Liberation Mono",monospace' font-size="4.3" fill="#8a8a8a">&lt;&lt; Main:10k &gt;&gt;</text>
</g>
<clipPath id="cb"><rect x="279.6" y="26" width="265.0" height="200"/></clipPath>
<g clip-path="url(#cb)">
<rect x="279.6" y="65.05" width="265.0" height="1.8" fill="#3535d8"/>
<rect x="279.6" y="90.0" width="265.0" height="1.45" fill="#e65ae6"/>
<rect x="279.6" y="124.9" width="265.0" height="1.7" fill="#48d2e6"/>
<rect x="279.6" y="145.3" width="265.0" height="1.7" fill="#5092e0"/>
<path d="M279.60,166.55 L280.10,166.53 L280.60,166.51 L281.10,166.48 L281.60,166.46 L282.10,166.44 L282.60,166.41 L283.10,166.39 L283.60,166.37 L284.10,166.34 L284.60,166.32 L285.10,166.29 L285.60,166.27 L286.10,166.24 L286.60,166.22 L287.10,166.19 L287.60,166.16 L288.10,166.14 L288.60,166.11 L289.10,166.08 L289.60,166.06 L290.10,166.03 L290.60,166.00 L291.10,165.98 L291.60,165.95 L292.10,165.92 L292.60,165.90 L293.10,165.87 L293.60,165.84 L294.10,165.82 L294.60,165.79 L295.10,165.77 L295.60,165.74 L296.10,165.72 L296.60,165.69 L297.10,165.67 L297.60,165.64 L298.10,165.62 L298.60,165.59 L299.10,165.57 L299.60,165.55 L300.10,165.52 L300.60,165.50 L301.10,165.48 L301.60,165.46 L302.10,165.44 L302.60,165.42 L303.10,165.40 L303.60,165.38 L304.10,165.36 L304.60,165.34 L305.10,165.32 L305.60,165.30 L306.10,165.29 L306.60,165.27 L307.10,165.26 L307.60,165.24 L308.10,165.23 L308.60,165.21 L309.10,165.20 L309.60,165.19 L310.10,165.18 L310.60,165.17 L311.10,165.16 L311.60,165.15 L312.10,165.14 L312.60,165.13 L313.10,165.13 L313.60,165.12 L314.10,165.12 L314.60,165.11 L315.10,165.11 L315.60,165.10 L316.10,165.10 L316.60,165.10 L317.10,165.10 L317.60,165.10 L318.10,165.10 L318.60,165.10 L319.10,165.11 L319.60,165.11 L320.10,165.11 L320.60,165.12 L321.10,165.12 L321.60,165.13 L322.10,165.14 L322.60,165.15 L323.10,165.15 L323.60,165.16 L324.10,165.17 L324.60,165.19 L325.10,165.20 L325.60,165.21 L326.10,165.22 L326.60,165.24 L327.10,165.25 L327.60,165.27 L328.10,165.28 L328.60,165.30 L329.10,165.31 L329.60,165.33 L330.10,165.35 L330.60,165.37 L331.10,165.39 L331.60,165.41 L332.10,165.43 L332.60,165.45 L333.10,165.47 L333.60,165.49 L334.10,165.51 L334.60,165.54 L335.10,165.56 L335.60,165.58 L336.10,165.61 L336.60,165.63 L337.10,165.66 L337.60,165.68 L338.10,165.71 L338.60,165.73 L339.10,165.76 L339.60,165.78 L340.10,165.81 L340.60,165.83 L341.10,165.86 L341.60,165.89 L342.10,165.91 L342.60,165.94 L343.10,165.97 L343.60,165.99 L344.10,166.02 L344.60,166.05 L345.10,166.07 L345.60,166.10 L346.10,166.13 L346.60,166.15 L347.10,166.18 L347.60,166.20 L348.10,166.23 L348.60,166.26 L349.10,166.28 L349.60,166.31 L350.10,166.33 L350.60,166.36 L351.10,166.38 L351.60,166.40 L352.10,166.43 L352.60,166.45 L353.10,166.47 L353.60,166.50 L354.10,166.52 L354.60,166.54 L355.10,166.56 L355.60,166.58 L356.10,166.60 L356.60,166.62 L357.10,166.64 L357.60,166.66 L358.10,166.68 L358.60,166.69 L359.10,166.71 L359.60,166.73 L360.10,166.74 L360.60,166.76 L361.10,166.77 L361.60,166.78 L362.10,166.80 L362.60,166.81 L363.10,166.82 L363.60,166.83 L364.10,166.84 L364.60,166.85 L365.10,166.86 L365.60,166.87 L366.10,166.87 L366.60,166.88 L367.10,166.88 L367.60,166.89 L368.10,166.89 L368.60,166.90 L369.10,166.90 L369.60,166.90 L370.10,166.90 L370.60,166.90 L371.10,166.90 L371.60,166.90 L372.10,166.89 L372.60,166.89 L373.10,166.89 L373.60,166.88 L374.10,166.88 L374.60,166.87 L375.10,166.86 L375.60,166.86 L376.10,166.85 L376.60,166.84 L377.10,166.83 L377.60,166.82 L378.10,166.80 L378.60,166.79 L379.10,166.78 L379.60,166.77 L380.10,166.75 L380.60,166.74 L381.10,166.72 L381.60,166.70 L382.10,166.69 L382.60,166.67 L383.10,166.65 L383.60,166.63 L384.10,166.61 L384.60,166.59 L385.10,166.57 L385.60,166.55 L386.10,166.53 L386.60,166.51 L387.10,166.49 L387.60,166.47 L388.10,166.44 L388.60,166.42 L389.10,166.40 L389.60,166.37 L390.10,166.35 L390.60,166.32 L391.10,166.30 L391.60,166.27 L392.10,166.25 L392.60,166.22 L393.10,166.19 L393.60,166.17 L394.10,166.14 L394.60,166.12 L395.10,166.09 L395.60,166.06 L396.10,166.04 L396.60,166.01 L397.10,165.98 L397.60,165.96 L398.10,165.93 L398.60,165.90 L399.10,165.88 L399.60,165.85 L400.10,165.82 L400.60,165.80 L401.10,165.77 L401.60,165.75 L402.10,165.72 L402.60,165.70 L403.10,165.67 L403.60,165.65 L404.10,165.62 L404.60,165.60 L405.10,165.57 L405.60,165.55 L406.10,165.53 L406.60,165.51 L407.10,165.48 L407.60,165.46 L408.10,165.44 L408.60,165.42 L409.10,165.40 L409.60,165.38 L410.10,165.36 L410.60,165.34 L411.10,165.32 L411.60,165.31 L412.10,165.29 L412.60,165.27 L413.10,165.26 L413.60,165.24 L414.10,165.23 L414.60,165.22 L415.10,165.20 L415.60,165.19 L416.10,165.18 L416.60,165.17 L417.10,165.16 L417.60,165.15 L418.10,165.14 L418.60,165.13 L419.10,165.13 L419.60,165.12 L420.10,165.12 L420.60,165.11 L421.10,165.11 L421.60,165.10 L422.10,165.10 L422.60,165.10 L423.10,165.10 L423.60,165.10 L424.10,165.10 L424.60,165.10 L425.10,165.11 L425.60,165.11 L426.10,165.11 L426.60,165.12 L427.10,165.12 L427.60,165.13 L428.10,165.14 L428.60,165.14 L429.10,165.15 L429.60,165.16 L430.10,165.17 L430.60,165.18 L431.10,165.19 L431.60,165.21 L432.10,165.22 L432.60,165.23 L433.10,165.25 L433.60,165.26 L434.10,165.28 L434.60,165.29 L435.10,165.31 L435.60,165.33 L436.10,165.35 L436.60,165.37 L437.10,165.38 L437.60,165.40 L438.10,165.42 L438.60,165.44 L439.10,165.47 L439.60,165.49 L440.10,165.51 L440.60,165.53 L441.10,165.56 L441.60,165.58 L442.10,165.60 L442.60,165.63 L443.10,165.65 L443.60,165.68 L444.10,165.70 L444.60,165.73 L445.10,165.75 L445.60,165.78 L446.10,165.80 L446.60,165.83 L447.10,165.86 L447.60,165.88 L448.10,165.91 L448.60,165.93 L449.10,165.96 L449.60,165.99 L450.10,166.01 L450.60,166.04 L451.10,166.07 L451.60,166.09 L452.10,166.12 L452.60,166.15 L453.10,166.17 L453.60,166.20 L454.10,166.23 L454.60,166.25 L455.10,166.28 L455.60,166.30 L456.10,166.33 L456.60,166.35 L457.10,166.38 L457.60,166.40 L458.10,166.42 L458.60,166.45 L459.10,166.47 L459.60,166.49 L460.10,166.51 L460.60,166.54 L461.10,166.56 L461.60,166.58 L462.10,166.60 L462.60,166.62 L463.10,166.64 L463.60,166.66 L464.10,166.67 L464.60,166.69 L465.10,166.71 L465.60,166.72 L466.10,166.74 L466.60,166.75 L467.10,166.77 L467.60,166.78 L468.10,166.79 L468.60,166.81 L469.10,166.82 L469.60,166.83 L470.10,166.84 L470.60,166.85 L471.10,166.86 L471.60,166.86 L472.10,166.87 L472.60,166.88 L473.10,166.88 L473.60,166.89 L474.10,166.89 L474.60,166.90 L475.10,166.90 L475.60,166.90 L476.10,166.90 L476.60,166.90 L477.10,166.90 L477.60,166.90 L478.10,166.90 L478.60,166.89 L479.10,166.89 L479.60,166.88 L480.10,166.88 L480.60,166.87 L481.10,166.86 L481.60,166.86 L482.10,166.85 L482.60,166.84 L483.10,166.83 L483.60,166.82 L484.10,166.81 L484.60,166.79 L485.10,166.78 L485.60,166.77 L486.10,166.75 L486.60,166.74 L487.10,166.72 L487.60,166.71 L488.10,166.69 L488.60,166.67 L489.10,166.66 L489.60,166.64 L490.10,166.62 L490.60,166.60 L491.10,166.58 L491.60,166.56 L492.10,166.54 L492.60,166.51 L493.10,166.49 L493.60,166.47 L494.10,166.45 L494.60,166.42 L495.10,166.40 L495.60,166.38 L496.10,166.35 L496.60,166.33 L497.10,166.30 L497.60,166.28 L498.10,166.25 L498.60,166.23 L499.10,166.20 L499.60,166.17 L500.10,166.15 L500.60,166.12 L501.10,166.09 L501.60,166.07 L502.10,166.04 L502.60,166.01 L503.10,165.99 L503.60,165.96 L504.10,165.93 L504.60,165.91 L505.10,165.88 L505.60,165.86 L506.10,165.83 L506.60,165.80 L507.10,165.78 L507.60,165.75 L508.10,165.73 L508.60,165.70 L509.10,165.68 L509.60,165.65 L510.10,165.63 L510.60,165.60 L511.10,165.58 L511.60,165.56 L512.10,165.53 L512.60,165.51 L513.10,165.49 L513.60,165.47 L514.10,165.44 L514.60,165.42 L515.10,165.40 L515.60,165.38 L516.10,165.37 L516.60,165.35 L517.10,165.33 L517.60,165.31 L518.10,165.29 L518.60,165.28 L519.10,165.26 L519.60,165.25 L520.10,165.23 L520.60,165.22 L521.10,165.21 L521.60,165.19 L522.10,165.18 L522.60,165.17 L523.10,165.16 L523.60,165.15 L524.10,165.14 L524.60,165.14 L525.10,165.13 L525.60,165.12 L526.10,165.12 L526.60,165.11 L527.10,165.11 L527.60,165.11 L528.10,165.10 L528.60,165.10 L529.10,165.10 L529.60,165.10 L530.10,165.10 L530.60,165.10 L531.10,165.10 L531.60,165.11 L532.10,165.11 L532.60,165.12 L533.10,165.12 L533.60,165.13 L534.10,165.13 L534.60,165.14 L535.10,165.15 L535.60,165.16 L536.10,165.17 L536.60,165.18 L537.10,165.19 L537.60,165.20 L538.10,165.22 L538.60,165.23 L539.10,165.24 L539.60,165.26 L540.10,165.27 L540.60,165.29 L541.10,165.31 L541.60,165.32 L542.10,165.34 L542.60,165.36 L543.10,165.38 L543.60,165.40 L544.10,165.42 L544.60,165.44" stroke="#b5a536" stroke-width="2" fill="none"/>
<path d="M294.70,26 L297.00,76 L301.00,126 L301.90,176 L302.40,226" stroke="#aedb52" stroke-width="1.2" fill="none"/>
<path d="M347.75,26 L350.05,76 L354.05,126 L354.95,176 L355.45,226" stroke="#aedb52" stroke-width="1.2" fill="none"/>
<path d="M400.80,26 L403.10,76 L407.10,126 L408.00,176 L408.50,226" stroke="#aedb52" stroke-width="1.2" fill="none"/>
<path d="M453.85,26 L456.15,76 L460.15,126 L461.05,176 L461.55,226" stroke="#aedb52" stroke-width="1.2" fill="none"/>
<path d="M506.90,26 L509.20,76 L513.20,126 L514.10,176 L514.60,226" stroke="#aedb52" stroke-width="1.2" fill="none"/>
<path d="M281.65,26 L279.95,76 L277.25,126 L274.65,176 L273.95,226" stroke="#aedb52" stroke-width="1.2" fill="none"/>
<path d="M334.70,26 L333.00,76 L330.30,126 L327.70,176 L327.00,226" stroke="#aedb52" stroke-width="1.2" fill="none"/>
<path d="M387.75,26 L386.05,76 L383.35,126 L380.75,176 L380.05,226" stroke="#aedb52" stroke-width="1.2" fill="none"/>
<path d="M440.80,26 L439.10,76 L436.40,126 L433.80,176 L433.10,226" stroke="#aedb52" stroke-width="1.2" fill="none"/>
<path d="M493.85,26 L492.15,76 L489.45,126 L486.85,176 L486.15,226" stroke="#aedb52" stroke-width="1.2" fill="none"/>
<path d="M546.90,26 L545.20,76 L542.50,126 L539.90,176 L539.20,226" stroke="#aedb52" stroke-width="1.2" fill="none"/>
<path d="M185.2,87.0 L194.9,119.2 L198.7,99.2 L207.1,120.5 L212.9,92.1 L220.7,107.0 L225.7,81.0 L233.7,105.2 L238.2,87.0 L248.0,119.2 L251.8,99.2 L260.2,120.5 L265.9,92.1 L273.8,107.0 L278.8,81.0 L286.8,105.2 L291.3,87.0 L301.0,119.2 L304.8,99.2 L313.2,120.5 L319.0,92.1 L326.8,107.0 L331.8,81.0 L339.8,105.2 L344.4,87.0 L354.1,119.2 L357.9,99.2 L366.3,120.5 L372.1,92.1 L379.9,107.0 L384.9,81.0 L392.9,105.2 L397.4,87.0 L407.1,119.2 L410.9,99.2 L419.3,120.5 L425.1,92.1 L432.9,107.0 L437.9,81.0 L441.2,87.0 L441.8,41.5 L442.4,89.5 L445.9,105.2 L450.4,87.0 L460.1,119.2 L463.9,99.2 L472.4,120.5 L478.1,92.1 L485.9,107.0 L490.9,81.0 L498.9,105.2 L503.5,87.0 L513.2,119.2 L517.0,99.2 L525.4,120.5 L531.2,92.1 L539.0,107.0 L544.0,81.0 L552.0,105.2 L556.6,87.0 L566.2,119.2 L570.1,99.2 L578.5,120.5 L584.2,92.1 L592.1,107.0 L597.1,81.0 L605.1,105.2" stroke="#33cc33" stroke-width="1.8" fill="none" stroke-linejoin="round"/>
<path d="M198.7,99.2 L207.1,120.5 M212.9,92.1 L220.7,107 M251.8,99.2 L260.2,120.5 M265.9,92.1 L273.8,107 M304.8,99.2 L313.2,120.5 M319.0,92.1 L326.8,107 M357.9,99.2 L366.3,120.5 M372.1,92.1 L379.9,107 M410.9,99.2 L419.3,120.5 M425.1,92.1 L432.9,107 M463.9,99.2 L472.4,120.5 M478.1,92.1 L485.9,107 M517.0,99.2 L525.4,120.5 M531.2,92.1 L539.0,107 M570.1,99.2 L578.5,120.5 M584.2,92.1 L592.1,107" stroke="#33cc33" stroke-width="3.3" fill="none" stroke-linecap="round"/>
<path d="M279.60,142.16 L280.10,145.70 L280.60,149.17 L281.10,152.55 L281.60,155.85 L282.10,159.04 L282.60,162.11 L283.10,165.06 L283.60,167.88 L284.10,170.55 L284.60,173.06 L285.10,175.41 L285.60,177.58 L286.10,179.58 L286.60,181.38 L287.10,183.00 L287.60,184.41 L288.10,185.63 L288.60,186.63 L289.10,187.42 L289.60,188.00 L290.10,188.36 L290.60,188.50 L291.10,188.42 L291.60,188.13 L292.10,187.61 L292.60,186.89 L293.10,185.95 L293.60,184.80 L294.10,183.44 L294.60,181.89 L295.10,180.14 L295.60,178.20 L296.10,176.08 L296.60,173.78 L297.10,171.32 L297.60,168.69 L298.10,165.92 L298.60,163.01 L299.10,159.97 L299.60,156.82 L300.10,153.55 L300.60,150.19 L301.10,146.75 L301.60,143.23 L302.10,139.65 L302.60,136.03 L303.10,132.37 L303.60,128.69 L304.10,125.00 L304.60,121.32 L305.10,117.65 L305.60,114.01 L306.10,110.42 L306.60,106.88 L307.10,103.41 L307.60,100.01 L308.10,96.72 L308.60,93.52 L309.10,90.44 L309.60,87.48 L310.10,84.66 L310.60,81.98 L311.10,79.46 L311.60,77.11 L312.10,74.92 L312.60,72.92 L313.10,71.10 L313.60,69.48 L314.10,68.05 L314.60,66.83 L315.10,65.82 L315.60,65.02 L316.10,64.43 L316.60,64.06 L317.10,63.90 L317.60,63.97 L318.10,64.25 L318.60,64.75 L319.10,65.47 L319.60,66.40 L320.10,67.54 L320.60,68.88 L321.10,70.43 L321.60,72.17 L322.10,74.10 L322.60,76.21 L323.10,78.50 L323.60,80.96 L324.10,83.57 L324.60,86.34 L325.10,89.24 L325.60,92.27 L326.10,95.42 L326.60,98.68 L327.10,102.04 L327.60,105.48 L328.10,108.99 L328.60,112.57 L329.10,116.19 L329.60,119.85 L330.10,123.53 L330.60,127.21 L331.10,130.90 L331.60,134.57 L332.10,138.21 L332.60,141.80 L333.10,145.35 L333.60,148.82 L334.10,152.22 L334.60,155.52 L335.10,158.72 L335.60,161.81 L336.10,164.77 L336.60,167.60 L337.10,170.29 L337.60,172.81 L338.10,175.18 L338.60,177.37 L339.10,179.38 L339.60,181.21 L340.10,182.85 L340.60,184.28 L341.10,185.51 L341.60,186.54 L342.10,187.35 L342.60,187.95 L343.10,188.33 L343.60,188.49 L344.10,188.44 L344.60,188.17 L345.10,187.68 L345.60,186.97 L346.10,186.05 L346.60,184.92 L347.10,183.59 L347.60,182.05 L348.10,180.32 L348.60,178.40 L349.10,176.30 L349.60,174.02 L350.10,171.57 L350.60,168.96 L351.10,166.21 L351.60,163.31 L352.10,160.28 L352.60,157.14 L353.10,153.88 L353.60,150.53 L354.10,147.09 L354.60,143.58 L355.10,140.01 L355.60,136.39 L356.10,132.74 L356.60,129.06 L357.10,125.37 L357.60,121.68 L358.10,118.01 L358.60,114.37 L359.10,110.77 L359.60,107.23 L360.10,103.75 L360.60,100.35 L361.10,97.04 L361.60,93.83 L362.10,90.74 L362.60,87.77 L363.10,84.94 L363.60,82.25 L364.10,79.71 L364.60,77.34 L365.10,75.13 L365.60,73.11 L366.10,71.28 L366.60,69.63 L367.10,68.19 L367.60,66.94 L368.10,65.91 L368.60,65.09 L369.10,64.48 L369.60,64.08 L370.10,63.91 L370.60,63.95 L371.10,64.22 L371.60,64.69 L372.10,65.39 L372.60,66.30 L373.10,67.42 L373.60,68.74 L374.10,70.27 L374.60,71.99 L375.10,73.90 L375.60,75.99 L376.10,78.27 L376.60,80.70 L377.10,83.30 L377.60,86.05 L378.10,88.94 L378.60,91.96 L379.10,95.10 L379.60,98.35 L380.10,101.70 L380.60,105.13 L381.10,108.64 L381.60,112.21 L382.10,115.83 L382.60,119.48 L383.10,123.16 L383.60,126.85 L384.10,130.53 L384.60,134.20 L385.10,137.84 L385.60,141.45 L386.10,145.00 L386.60,148.48 L387.10,151.88 L387.60,155.20 L388.10,158.41 L388.60,161.51 L389.10,164.48 L389.60,167.33 L390.10,170.02 L390.60,172.57 L391.10,174.95 L391.60,177.16 L392.10,179.19 L392.60,181.04 L393.10,182.69 L393.60,184.15 L394.10,185.40 L394.60,186.44 L395.10,187.28 L395.60,187.90 L396.10,188.30 L396.60,188.49 L397.10,188.45 L397.60,188.20 L398.10,187.73 L398.60,187.05 L399.10,186.15 L399.60,185.05 L400.10,183.73 L400.60,182.22 L401.10,180.50 L401.60,178.60 L402.10,176.51 L402.60,174.25 L403.10,171.82 L403.60,169.23 L404.10,166.49 L404.60,163.61 L405.10,160.59 L405.60,157.46 L406.10,154.21 L406.60,150.87 L407.10,147.44 L407.60,143.94 L408.10,140.37 L408.60,136.76 L409.10,133.10 L409.60,129.43 L410.10,125.74 L410.60,122.05 L411.10,118.38 L411.60,114.74 L412.10,111.13 L412.60,107.58 L413.10,104.09 L413.60,100.69 L414.10,97.37 L414.60,94.15 L415.10,91.04 L415.60,88.06 L416.10,85.21 L416.60,82.51 L417.10,79.96 L417.60,77.57 L418.10,75.35 L418.60,73.31 L419.10,71.45 L419.60,69.79 L420.10,68.32 L420.60,67.06 L421.10,66.00 L421.60,65.16 L422.10,64.53 L422.60,64.11 L423.10,63.92 L423.60,63.94 L424.10,64.18 L424.60,64.64 L425.10,65.31 L425.60,66.20 L426.10,67.29 L426.60,68.60 L427.10,70.10 L427.60,71.81 L428.10,73.70 L428.60,75.78 L429.10,78.03 L429.60,80.45 L430.10,83.04 L430.60,85.77 L431.10,88.65 L431.60,91.66 L432.10,94.78 L432.60,98.02 L433.10,101.36 L433.60,104.79 L434.10,108.29 L434.60,111.85 L435.10,115.46 L435.60,119.11 L436.10,122.79 L436.60,126.48 L437.10,130.16 L437.60,133.84 L438.10,137.48 L438.60,141.09 L439.10,144.64 L439.60,148.13 L440.10,151.55 L440.60,154.87 L441.10,158.09 L441.60,161.20 L442.10,164.19 L442.60,167.05 L443.10,169.76 L443.60,172.32 L444.10,174.72 L444.60,176.95 L445.10,179.00 L445.60,180.86 L446.10,182.53 L446.60,184.01 L447.10,185.28 L447.60,186.35 L448.10,187.20 L448.60,187.85 L449.10,188.27 L449.60,188.48 L450.10,188.47 L450.60,188.24 L451.10,187.79 L451.60,187.13 L452.10,186.25 L452.60,185.17 L453.10,183.87 L453.60,182.38 L454.10,180.68 L454.60,178.80 L455.10,176.73 L455.60,174.49 L456.10,172.07 L456.60,169.50 L457.10,166.77 L457.60,163.90 L458.10,160.90 L458.60,157.78 L459.10,154.54 L459.60,151.21 L460.10,147.79 L460.60,144.29 L461.10,140.73 L461.60,137.12 L462.10,133.47 L462.60,129.80 L463.10,126.11 L463.60,122.42 L464.10,118.75 L464.60,115.10 L465.10,111.49 L465.60,107.93 L466.10,104.44 L466.60,101.02 L467.10,97.69 L467.60,94.47 L468.10,91.35 L468.60,88.35 L469.10,85.49 L469.60,82.77 L470.10,80.20 L470.60,77.80 L471.10,75.56 L471.60,73.50 L472.10,71.63 L472.60,69.94 L473.10,68.46 L473.60,67.18 L474.10,66.10 L474.60,65.23 L475.10,64.58 L475.60,64.15 L476.10,63.93 L476.60,63.93 L477.10,64.15 L477.60,64.58 L478.10,65.23 L478.60,66.10 L479.10,67.18 L479.60,68.46 L480.10,69.94 L480.60,71.63 L481.10,73.50 L481.60,75.56 L482.10,77.80 L482.60,80.20 L483.10,82.77 L483.60,85.49 L484.10,88.35 L484.60,91.35 L485.10,94.47 L485.60,97.69 L486.10,101.02 L486.60,104.44 L487.10,107.93 L487.60,111.49 L488.10,115.10 L488.60,118.75 L489.10,122.42 L489.60,126.11 L490.10,129.80 L490.60,133.47 L491.10,137.12 L491.60,140.73 L492.10,144.29 L492.60,147.79 L493.10,151.21 L493.60,154.54 L494.10,157.78 L494.60,160.90 L495.10,163.90 L495.60,166.77 L496.10,169.50 L496.60,172.07 L497.10,174.49 L497.60,176.73 L498.10,178.80 L498.60,180.68 L499.10,182.38 L499.60,183.87 L500.10,185.17 L500.60,186.25 L501.10,187.13 L501.60,187.79 L502.10,188.24 L502.60,188.47 L503.10,188.48 L503.60,188.27 L504.10,187.85 L504.60,187.20 L505.10,186.35 L505.60,185.28 L506.10,184.01 L506.60,182.53 L507.10,180.86 L507.60,179.00 L508.10,176.95 L508.60,174.72 L509.10,172.32 L509.60,169.76 L510.10,167.05 L510.60,164.19 L511.10,161.20 L511.60,158.09 L512.10,154.87 L512.60,151.55 L513.10,148.13 L513.60,144.64 L514.10,141.09 L514.60,137.48 L515.10,133.84 L515.60,130.16 L516.10,126.48 L516.60,122.79 L517.10,119.11 L517.60,115.46 L518.10,111.85 L518.60,108.29 L519.10,104.79 L519.60,101.36 L520.10,98.02 L520.60,94.78 L521.10,91.66 L521.60,88.65 L522.10,85.77 L522.60,83.04 L523.10,80.45 L523.60,78.03 L524.10,75.78 L524.60,73.70 L525.10,71.81 L525.60,70.10 L526.10,68.60 L526.60,67.29 L527.10,66.20 L527.60,65.31 L528.10,64.64 L528.60,64.18 L529.10,63.94 L529.60,63.92 L530.10,64.11 L530.60,64.53 L531.10,65.16 L531.60,66.00 L532.10,67.06 L532.60,68.32 L533.10,69.79 L533.60,71.45 L534.10,73.31 L534.60,75.35 L535.10,77.57 L535.60,79.96 L536.10,82.51 L536.60,85.21 L537.10,88.06 L537.60,91.04 L538.10,94.15 L538.60,97.37 L539.10,100.69 L539.60,104.09 L540.10,107.58 L540.60,111.13 L541.10,114.74 L541.60,118.38 L542.10,122.05 L542.60,125.74 L543.10,129.43 L543.60,133.10 L544.10,136.76 L544.60,140.37" stroke="#e46464" stroke-width="1.1" fill="none"/>
</g>
<g transform="translate(274.5,0) scale(1.061,1)">
<rect x="31.5" y="199.2" width="8" height="3" fill="#9c9cf0" opacity="0.75"/>
<rect x="31.5" y="202.2" width="8" height="3" fill="#f0b0ec" opacity="0.75"/>
<rect x="31.5" y="205.2" width="8" height="3" fill="#b0ecb0" opacity="0.75"/>
<rect x="31.5" y="208.2" width="8" height="3" fill="#f0b4b4" opacity="0.75"/>
<rect x="31.5" y="211.2" width="8" height="3" fill="#a8ecf4" opacity="0.75"/>
<rect x="31.5" y="214.2" width="8" height="3" fill="#a8c8f4" opacity="0.75"/>
<rect x="31.5" y="217.2" width="8" height="3" fill="#f4e4a8" opacity="0.75"/>
<rect x="31.5" y="220.2" width="8" height="3" fill="#e4f4b8" opacity="0.75"/>
<text x="9.5" y="193.70" font-family='"Liberation Mono",monospace' font-size="5.15" font-weight="bold" fill="#3c3c3c" xml:space="preserve">P-P (CH1)</text>
<text x="43.3" y="193.70" font-family='"Liberation Mono",monospace' font-size="5.15" font-weight="bold" fill="#3c3c3c">0.063A</text>
<text x="92.1" y="193.70" font-family='"Liberation Mono",monospace' font-size="5.15" font-weight="bold" fill="#3c3c3c" xml:space="preserve">Amp (CH1)</text>
<text x="125.9" y="193.70" font-family='"Liberation Mono",monospace' font-size="5.15" font-weight="bold" fill="#3c3c3c">0.010A</text>
<text x="175.3" y="193.70" font-family='"Liberation Mono",monospace' font-size="5.15" font-weight="bold" fill="#3c3c3c" xml:space="preserve">Max (CH1)</text>
<text x="209.1" y="193.70" font-family='"Liberation Mono",monospace' font-size="5.15" font-weight="bold" fill="#3c3c3c">0.040A</text>
<text x="9.5" y="199.85" font-family='"Liberation Mono",monospace' font-size="5.15" font-weight="bold" fill="#3c3c3c" xml:space="preserve">Rms (CH1)</text>
<text x="43.3" y="199.85" font-family='"Liberation Mono",monospace' font-size="5.15" font-weight="bold" fill="#3c3c3c">9.57399mA</text>
<text x="92.1" y="199.85" font-family='"Liberation Mono",monospace' font-size="5.15" font-weight="bold" fill="#3c3c3c" xml:space="preserve">Freq(CH1)</text>
<text x="125.9" y="199.85" font-family='"Liberation Mono",monospace' font-size="5.15" font-weight="bold" fill="#3c3c3c">12.50000kHz</text>
<text x="175.3" y="199.85" font-family='"Liberation Mono",monospace' font-size="5.15" font-weight="bold" fill="#3c3c3c" xml:space="preserve">Amp (CH2)</text>
<text x="209.1" y="199.85" font-family='"Liberation Mono",monospace' font-size="5.15" font-weight="bold" fill="#3c3c3c">0.02A</text>
<text x="9.5" y="206.00" font-family='"Liberation Mono",monospace' font-size="5.15" font-weight="bold" fill="#3c3c3c" xml:space="preserve">Rms (CH2)</text>
<text x="43.3" y="206.00" font-family='"Liberation Mono",monospace' font-size="5.15" font-weight="bold" fill="#3c3c3c">31.4490mA</text>
<text x="92.1" y="206.00" font-family='"Liberation Mono",monospace' font-size="5.15" font-weight="bold" fill="#3c3c3c" xml:space="preserve">P-P (CH3)</text>
<text x="125.9" y="206.00" font-family='"Liberation Mono",monospace' font-size="5.15" font-weight="bold" fill="#3c3c3c">8.67V</text>
<text x="175.3" y="206.00" font-family='"Liberation Mono",monospace' font-size="5.15" font-weight="bold" fill="#3c3c3c" xml:space="preserve">Amp (CH3)</text>
<text x="209.1" y="206.00" font-family='"Liberation Mono",monospace' font-size="5.15" font-weight="bold" fill="#3c3c3c">7.03V</text>
<text x="9.5" y="212.15" font-family='"Liberation Mono",monospace' font-size="5.15" font-weight="bold" fill="#3c3c3c" xml:space="preserve">Avg (CH3)</text>
<text x="43.3" y="212.15" font-family='"Liberation Mono",monospace' font-size="5.15" font-weight="bold" fill="#3c3c3c">2.44100V</text>
<text x="92.1" y="212.15" font-family='"Liberation Mono",monospace' font-size="5.15" font-weight="bold" fill="#3c3c3c" xml:space="preserve">Rms (CH3)</text>
<text x="125.9" y="212.15" font-family='"Liberation Mono",monospace' font-size="5.15" font-weight="bold" fill="#3c3c3c">2.67590V</text>
<text x="175.3" y="212.15" font-family='"Liberation Mono",monospace' font-size="5.15" font-weight="bold" fill="#3c3c3c" xml:space="preserve">Amp (CH4)</text>
<text x="209.1" y="212.15" font-family='"Liberation Mono",monospace' font-size="5.15" font-weight="bold" fill="#3c3c3c">314.2V</text>
<text x="9.5" y="218.30" font-family='"Liberation Mono",monospace' font-size="5.15" font-weight="bold" fill="#3c3c3c" xml:space="preserve">Rms (CH4)</text>
<text x="43.3" y="218.30" font-family='"Liberation Mono",monospace' font-size="5.15" font-weight="bold" fill="#3c3c3c">115.062V</text>
<text x="92.1" y="218.30" font-family='"Liberation Mono",monospace' font-size="5.15" font-weight="bold" fill="#3c3c3c" xml:space="preserve">Amp (CH5)</text>
<text x="125.9" y="218.30" font-family='"Liberation Mono",monospace' font-size="5.15" font-weight="bold" fill="#3c3c3c">0.018A</text>
<text x="175.3" y="218.30" font-family='"Liberation Mono",monospace' font-size="5.15" font-weight="bold" fill="#3c3c3c" xml:space="preserve">Amp (CH6)</text>
<text x="209.1" y="218.30" font-family='"Liberation Mono",monospace' font-size="5.15" font-weight="bold" fill="#3c3c3c">0.013A</text>
<text x="9.5" y="224.45" font-family='"Liberation Mono",monospace' font-size="5.15" font-weight="bold" fill="#3c3c3c" xml:space="preserve">Amp (CH7)</text>
<text x="43.3" y="224.45" font-family='"Liberation Mono",monospace' font-size="5.15" font-weight="bold" fill="#3c3c3c">0.52V</text>
<text x="92.1" y="224.45" font-family='"Liberation Mono",monospace' font-size="5.15" font-weight="bold" fill="#3c3c3c" xml:space="preserve">Amp (CH8)</text>
<text x="125.9" y="224.45" font-family='"Liberation Mono",monospace' font-size="5.15" font-weight="bold" fill="#3c3c3c">124.90V</text>
<text x="234" y="225.4" font-family='"Liberation Mono",monospace' font-size="4" fill="#9a9aa6">105.99ms</text>
</g>
<circle cx="547.7" cy="65.3" r="1.75" fill="#2b2bd6"/>
<circle cx="547.7" cy="77.2" r="1.75" fill="#e83030"/>
<circle cx="547.7" cy="89.8" r="1.75" fill="#e553e5"/>
<circle cx="547.7" cy="94.9" r="1.75" fill="#30c030"/>
<circle cx="547.7" cy="125.5" r="1.75" fill="#45d3e6"/>
<circle cx="547.7" cy="146.5" r="1.75" fill="#4d92e2"/>
<circle cx="547.7" cy="166.5" r="1.75" fill="#b5a536"/>
<rect x="276.8" y="67.8" width="2.6" height="2.4" fill="#6060e0" opacity="0.8"/>
<rect x="276.8" y="91.5" width="2.6" height="2.4" fill="#e070e0" opacity="0.8"/>
<rect x="276.8" y="100.8" width="2.6" height="2.4" fill="#40c040" opacity="0.8"/>
<rect x="276.8" y="126.3" width="2.6" height="2.4" fill="#60d0e0" opacity="0.8"/>
<rect x="276.8" y="145.8" width="2.6" height="2.4" fill="#6090e0" opacity="0.8"/>
<rect x="276.8" y="165.8" width="2.6" height="2.4" fill="#c0b040" opacity="0.8"/>
<rect x="276" y="226.9" width="274" height="0.9" fill="#8a8a70"/>
<text x="127.1" y="244.8" font-family="Liberation Serif,serif" font-size="19" fill="#111" stroke="#111" stroke-width="0.2">(a)</text>
<text x="397.8" y="245" font-family="Liberation Serif,serif" font-size="19.4" fill="#111" stroke="#111" stroke-width="0.2">(b)</text>
<rect x="8.8" y="256.6" width="535.2" height="108.4" fill="none" stroke="#000" stroke-width="1.6"/>
<g stroke-width="2">
<path d="M16.5,278.5 H47" stroke="#2a2ae0"/>
<path d="M16.5,301.5 H47" stroke="#e040e0"/>
<path d="M16.5,325.2 H47" stroke="#20d020"/>
<path d="M16.5,350 H47" stroke="#e02020"/>
<path d="M292.5,276.2 H322.6" stroke="#40d0f0"/>
<path d="M292.5,301.5 H322.6" stroke="#2080e0"/>
<path d="M291,325.2 H321.3" stroke="#20d020"/>
<path d="M291,349.5 H321.3" stroke="#e02020"/>
</g>
<text x="53.7" y="285.6" font-family="Liberation Serif,serif" font-size="19.6" fill="#111" stroke="#111" stroke-width="0.12" textLength="205.7" lengthAdjust="spacingAndGlyphs">1#relay track coil current</text>
<text x="53.7" y="308.3" font-family="Liberation Serif,serif" font-size="19.6" fill="#111" stroke="#111" stroke-width="0.12" textLength="205.7" lengthAdjust="spacingAndGlyphs">1#relay local coil current</text>
<text x="53.7" y="332.8" font-family="Liberation Serif,serif" font-size="19.6" fill="#111" stroke="#111" stroke-width="0.12" textLength="208.1" lengthAdjust="spacingAndGlyphs">1#relay track coil voltage</text>
<text x="53.7" y="356.1" font-family="Liberation Serif,serif" font-size="19.6" fill="#111" stroke="#111" stroke-width="0.12" textLength="207.3" lengthAdjust="spacingAndGlyphs">1#relay local coil voltage</text>
<text x="329.1" y="283.9" font-family="Liberation Serif,serif" font-size="19.6" fill="#111" stroke="#111" stroke-width="0.12" textLength="206.5" lengthAdjust="spacingAndGlyphs">2#relay track coil current</text>
<text x="329.1" y="308.3" font-family="Liberation Serif,serif" font-size="19.6" fill="#111" stroke="#111" stroke-width="0.12" textLength="204.9" lengthAdjust="spacingAndGlyphs">2#relay local coil current</text>
<text x="329.1" y="332.8" font-family="Liberation Serif,serif" font-size="19.6" fill="#111" stroke="#111" stroke-width="0.12" textLength="208.3" lengthAdjust="spacingAndGlyphs">2#relay track coil voltage</text>
<text x="329.1" y="355.1" font-family="Liberation Serif,serif" font-size="19.6" fill="#111" stroke="#111" stroke-width="0.12" textLength="207.3" lengthAdjust="spacingAndGlyphs">2#relay local coil voltage</text>
</svg>
</body></html>
